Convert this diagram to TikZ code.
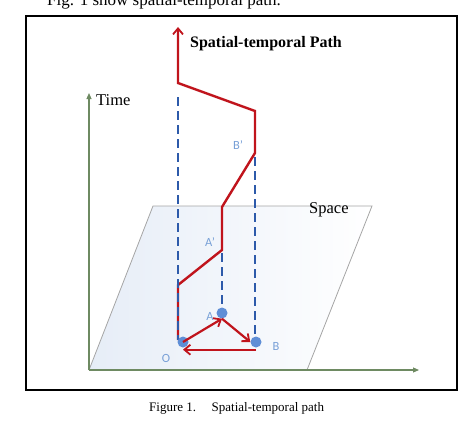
\documentclass[tikz,border=0pt]{standalone}
\usepackage{fontspec}
\setmainfont{Liberation Serif}
\newfontfamily\labfont{Carlito}
\usetikzlibrary{arrows.meta}
\definecolor{pathred}{RGB}{192,20,28}
\definecolor{dashblue}{RGB}{45,90,170}
\definecolor{dotblue}{RGB}{95,142,214}
\definecolor{labblue}{RGB}{120,160,215}
\definecolor{axisgreen}{RGB}{110,138,98}
\definecolor{planegray}{RGB}{165,165,165}
\definecolor{planefill}{RGB}{230,237,247}
\begin{document}
\begin{tikzpicture}[x=1pt,y=-1pt,
  redpath/.style={draw=pathred,line width=2.4pt,line join=miter},
  redarrow/.style={draw=pathred,line width=2.2pt,-{Straight Barb[length=6pt,width=10pt,line width=1.8pt]}},
  dashline/.style={draw=dashblue,line width=1.5pt,dash pattern=on 9pt off 5pt},
  axis/.style={draw=axisgreen,line width=1.1pt,-{Triangle[length=6pt,width=5pt]}},
  dot/.style={circle,fill=dotblue,inner sep=0pt,minimum size=11pt},
  lab/.style={font=\labfont\fontsize{12.5}{14}\selectfont,text=labblue,inner sep=0pt},
  bigtext/.style={font=\fontsize{16.5}{19}\selectfont,inner sep=0pt}]
\useasboundingbox (0,0) rectangle (474,436);
\clip (0,0) rectangle (474,436);
% top (cut-off) sentence
\node[font=\fontsize{17}{20}\selectfont,anchor=base west,inner sep=0pt] (toptext) at (47,6) {Fig. 1 show spatial-temporal path.};
% frame
\draw[line width=1.5pt] (26,16) rectangle (457,390);
% plane
\coordinate (pl1) at (89,370);
\coordinate (pl2) at (307,370);
\coordinate (pl3) at (372,206);
\coordinate (pl4) at (153,206);
\shade[left color=planefill,right color=white] (pl1) -- (pl2) -- (pl3) -- (pl4) -- cycle;
\draw[planegray,line width=0.8pt] (pl2) -- (pl3) -- (pl4) -- (pl1);
% axes
\coordinate (timetop) at (89,93);
\coordinate (spaceend) at (419,370);
\draw[axis] (pl1) -- (timetop);
\draw[axis] (pl1) -- (spaceend);
\node[bigtext,anchor=west] (time) at (96,100) {Time};
\node[bigtext,anchor=west] (space) at (309,210) {Space};
% path corners
\coordinate (s0) at (178,340);
\coordinate (s1) at (178,285);
\coordinate (s2) at (222,250);
\coordinate (s3) at (222,207);
\coordinate (s4) at (255,153);
\coordinate (s5) at (255,111);
\coordinate (s6) at (178,83);
\coordinate (s7) at (178,27);
% dashed projections
\coordinate (d1) at (178,97);
\coordinate (d2) at (222,253);
\coordinate (d3) at (222,308);
\coordinate (d4) at (255,157);
\coordinate (d5) at (255,336);
% red path
\draw[redpath,-{Straight Barb[length=6pt,width=10pt,line width=1.8pt]}]
  (s0) -- (s1) -- (s2) -- (s3) -- (s4) -- (s5) -- (s6) -- (s7);
\draw[dashline] (d1) -- (s0);
\draw[dashline] (d2) -- (d3);
\draw[dashline] (d4) -- (d5);
\node[font=\bfseries\fontsize{16}{19}\selectfont,anchor=west,inner sep=0pt] (title) at (190,44) {Spatial-temporal Path};
% points
\node[dot] (O) at (183,342) {};
\node[dot] (A) at (222,313) {};
\node[dot] (B) at (256,342) {};
\draw[redarrow] (O.center) -- (A.south);
\draw[redarrow] (A.south) -- (B.west);
\draw[redarrow] ([yshift=-2pt]B.south) -- ([yshift=-2pt]O.south);
% labels
\node[lab] (lO) at (166,358) {O};
\node[lab] (lA) at (210,316) {A};
\node[lab] (lB) at (276,346) {B};
\node[lab] (lAp) at (210,242) {A’};
\node[lab] (lBp) at (238,145) {B’};
% caption
\node[font=\fontsize{13}{15}\selectfont,anchor=base west,inner sep=0pt] (caption) at (149,411) {Figure 1.\hspace{1.2em}Spatial-temporal path};
\end{tikzpicture}
\end{document}
